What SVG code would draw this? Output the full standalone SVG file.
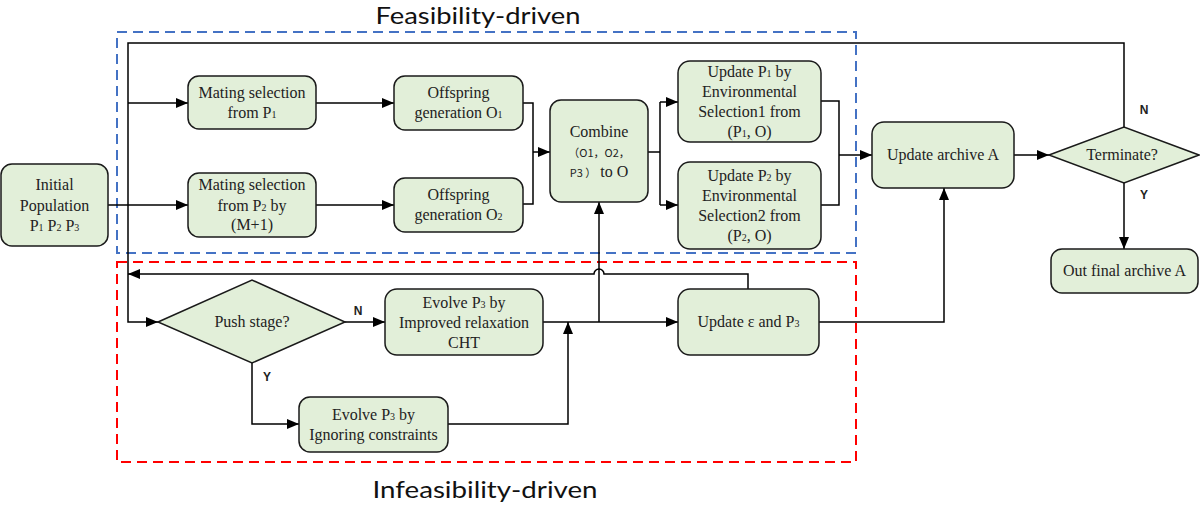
<svg xmlns="http://www.w3.org/2000/svg" width="1200" height="508" viewBox="0 0 1200 508">
<style>
.box{fill:#e2efd9;stroke:#1a1a1a;stroke-width:1.5}
.t{font-family:"Liberation Serif",serif;font-size:16px;fill:#222;text-anchor:middle}
.s{font-size:10px}
.cjk{font-family:"Noto Sans CJK SC","Liberation Sans",sans-serif;font-size:11px}
.lbl{font-family:"Liberation Sans",sans-serif;font-size:12px;font-weight:bold;fill:#222;text-anchor:middle}
.title{font-family:Lato,"Open Sans",sans-serif;font-size:24px;fill:#111;text-anchor:middle}
.c{fill:none;stroke:#000;stroke-width:1.5}
.a{marker-end:url(#ah)}
</style>
<defs>
<marker id="ah" markerUnits="userSpaceOnUse" markerWidth="12" markerHeight="10" refX="12" refY="5" orient="auto">
<path d="M0,0 L12,5 L0,10 z" fill="#000"/>
</marker>
</defs>
<rect width="1200" height="508" fill="#fff"/>
<g id="regions">
<rect x="117" y="32" width="739" height="221" fill="none" stroke="#4472c4" stroke-width="2" stroke-dasharray="10,6"/>
<rect x="117" y="262" width="739" height="200" fill="none" stroke="#ff0000" stroke-width="2" stroke-dasharray="10,6"/>
<text class="title" x="478" y="24" textLength="205" lengthAdjust="spacingAndGlyphs">Feasibility-driven</text>
<text class="title" x="485" y="498" textLength="225" lengthAdjust="spacingAndGlyphs">Infeasibility-driven</text>
</g>
<g id="connectors">
<path class="c a" d="M108,205 H188"/>
<path class="c a" d="M1124,127 V43 H128 V322 H158"/>
<path class="c a" d="M128,103 H188"/>
<path class="c a" d="M316,103 H394"/>
<path class="c a" d="M316,205 H394"/>
<path class="c" d="M523,103 H533 V204 H523"/>
<path class="c a" d="M533,152 H550"/>
<path class="c" d="M648,152 H660 M660,102 V205"/>
<path class="c a" d="M660,102 H678"/>
<path class="c a" d="M660,205 H678"/>
<path class="c" d="M821,101 H839 V205 H821"/>
<path class="c a" d="M839,155 H872"/>
<path class="c a" d="M1014,155 H1049"/>
<path class="c a" d="M1124,183 V249"/>
<path class="c a" d="M819,322 H944 V188"/>
<path class="c a" d="M748,289 V274 H604 A5,5 0 0 0 594,274 H128"/>
<path class="c a" d="M345,322 H385"/>
<path class="c a" d="M252,363 V424 H299"/>
<path class="c a" d="M448,424 H568 V322"/>
<path class="c a" d="M543,322 H678"/>
<path class="c a" d="M599,322 V202"/>
<rect x="1136" y="101" width="16" height="16" fill="#fff"/>
<text class="lbl" x="1144" y="114">N</text>
<rect x="1136" y="187" width="16" height="16" fill="#fff"/>
<text class="lbl" x="1144" y="199">Y</text>
<rect x="350" y="302" width="16" height="16" fill="#fff"/>
<text class="lbl" x="358" y="315">N</text>
<rect x="259" y="368" width="16" height="16" fill="#fff"/>
<text class="lbl" x="267" y="381">Y</text>
</g>
<g id="init">
<rect class="box" x="1" y="164" width="107" height="82" rx="11"/>
<text class="t" x="54.5" y="190">Initial</text>
<text class="t" x="54.5" y="211">Population</text>
<text class="t" x="54.5" y="231">P<tspan class="s">1</tspan> P<tspan class="s">2</tspan> P<tspan class="s">3</tspan></text>
</g>
<g id="ms1">
<rect class="box" x="188" y="76" width="128" height="53" rx="11"/>
<text class="t" x="252" y="98">Mating selection</text>
<text class="t" x="252" y="118">from P<tspan class="s">1</tspan></text>
</g>
<g id="ms2">
<rect class="box" x="188" y="173" width="128" height="64" rx="11"/>
<text class="t" x="252" y="190">Mating selection</text>
<text class="t" x="252" y="211">from P<tspan class="s">2</tspan> by</text>
<text class="t" x="252" y="230">(M+1)</text>
</g>
<g id="o1">
<rect class="box" x="394" y="76" width="129" height="54" rx="11"/>
<text class="t" x="458.5" y="98">Offspring</text>
<text class="t" x="458.5" y="118">generation O<tspan class="s">1</tspan></text>
</g>
<g id="o2">
<rect class="box" x="394" y="178" width="129" height="54" rx="11"/>
<text class="t" x="458.5" y="200">Offspring</text>
<text class="t" x="458.5" y="220">generation O<tspan class="s">2</tspan></text>
</g>
<g id="combine">
<rect class="box" x="550" y="100" width="98" height="102" rx="11"/>
<text class="t" x="599" y="137">Combine</text>
<text class="t cjk" x="599" y="157">（O1，O2，</text>
<text class="t" x="599" y="177"><tspan class="cjk">P3 ）</tspan> to O</text>
</g>
<g id="up1">
<rect class="box" x="678" y="61" width="143" height="81" rx="12"/>
<text class="t" x="749.5" y="77">Update P<tspan class="s">1</tspan> by</text>
<text class="t" x="749.5" y="97">Environmental</text>
<text class="t" x="749.5" y="117">Selection1 from</text>
<text class="t" x="749.5" y="137">(P<tspan class="s">1</tspan>, O)</text>
</g>
<g id="up2">
<rect class="box" x="678" y="162" width="143" height="87" rx="12"/>
<text class="t" x="749.5" y="181">Update P<tspan class="s">2</tspan> by</text>
<text class="t" x="749.5" y="201">Environmental</text>
<text class="t" x="749.5" y="221">Selection2 from</text>
<text class="t" x="749.5" y="241">(P<tspan class="s">2</tspan>, O)</text>
</g>
<g id="archive">
<rect class="box" x="872" y="122" width="142" height="66" rx="12"/>
<text class="t" x="943" y="160">Update archive A</text>
</g>
<g id="terminate">
<polygon class="box" points="1049,155 1124,127 1199,155 1124,183"/>
<text class="t" x="1122" y="160">Terminate?</text>
</g>
<g id="out">
<rect class="box" x="1051" y="249" width="147" height="44" rx="11"/>
<text class="t" x="1124.5" y="276">Out final archive A</text>
</g>
<g id="push">
<polygon class="box" points="158,322 252,280 345,322 252,363"/>
<text class="t" x="252" y="327">Push stage?</text>
</g>
<g id="cht">
<rect class="box" x="385" y="289" width="158" height="66" rx="12"/>
<text class="t" x="464" y="308">Evolve P<tspan class="s">3</tspan> by</text>
<text class="t" x="464" y="328">Improved relaxation</text>
<text class="t" x="464" y="348">CHT</text>
</g>
<g id="upeps">
<rect class="box" x="678" y="289" width="141" height="66" rx="12"/>
<text class="t" x="748.5" y="327">Update ε and P<tspan class="s">3</tspan></text>
</g>
<g id="ignore">
<rect class="box" x="299" y="397" width="149" height="55" rx="11"/>
<text class="t" x="373.5" y="420">Evolve P<tspan class="s">3</tspan> by</text>
<text class="t" x="373.5" y="440">Ignoring constraints</text>
</g>
</svg>
